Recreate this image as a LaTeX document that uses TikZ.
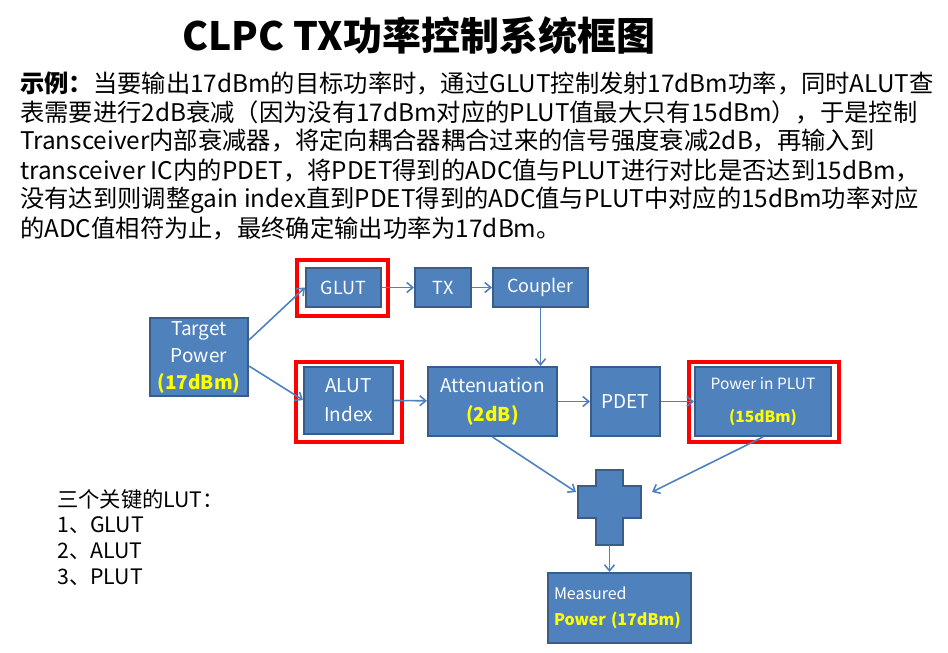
\documentclass[tikz,border=0pt]{standalone}
\usepackage{fontspec}
\setmainfont{Noto Sans CJK SC}
\usetikzlibrary{arrows.meta,positioning}
\definecolor{boxblue}{RGB}{79,129,189}
\definecolor{boxedge}{RGB}{56,93,138}
\definecolor{hiyellow}{RGB}{255,255,0}
\tikzset{
  blk/.style={draw=boxedge, line width=2pt, fill=boxblue, text=white, align=center, inner sep=0pt},
  frame/.style={draw=red, line width=3.5pt},
  conn/.style={draw=boxblue, line width=1.6pt, -{Straight Barb[length=6pt,width=10pt]}},
  para/.style={anchor=west, font=\fontsize{24.3}{26}\selectfont, inner sep=0pt}
}
\begin{document}
\begin{tikzpicture}[x=1pt, y=-1pt]
    \useasboundingbox (0,0) rectangle (948,653);
    % Title
    \node[font=\fontsize{39}{40}\selectfont\bfseries] (title) at (419,36) {CLPC TX功率控制系统框图};
    % Description
    \node[para] (p1) at (20,83) {\textbf{示例：}当要输出17dBm的目标功率时，通过GLUT控制发射17dBm功率，同时ALUT查};
    \node[para] (p2) at (20,112) {表需要进行2dB衰减（因为没有17dBm对应的PLUT值最大只有15dBm），于是控制};
    \node[para] (p3) at (20,141) {Transceiver内部衰减器，将定向耦合器耦合过来的信号强度衰减2dB，再输入到};
    \node[para] (p4) at (20,171) {transceiver IC内的PDET，将PDET得到的ADC值与PLUT进行对比是否达到15dBm，};
    \node[para] (p5) at (20,200) {没有达到则调整gain index直到PDET得到的ADC值与PLUT中对应的15dBm功率对应};
    \node[para] (p6) at (20,229) {的ADC值相符为止，最终确定输出功率为17dBm。};

    % Blocks
    \node[blk, minimum width=98pt, minimum height=78pt, font=\fontsize{19}{27}\selectfont] (target) at (199,357) {Target\\Power\\\textcolor{hiyellow}{\bfseries(17dBm)}};
    \node[blk, minimum width=75pt, minimum height=39pt, font=\fontsize{18}{18}\selectfont] (glut) at (343.5,287.5) {GLUT};
    \node[blk, minimum width=56pt, minimum height=39pt, font=\fontsize{18}{18}\selectfont] (tx) at (443,287.5) {TX};
    \node[blk, minimum width=95pt, minimum height=39pt, font=\fontsize{18}{18}\selectfont] (coupler) at (540.5,287.5) {Coupler};
    \node[blk, minimum width=89pt, minimum height=67pt, font=\fontsize{19}{29}\selectfont] (alut) at (348.5,400) {ALUT\\Index};
    \node[blk, minimum width=129pt, minimum height=69pt, font=\fontsize{19}{29}\selectfont] (atten) at (492.5,401.5) {Attenuation\\\textcolor{hiyellow}{\bfseries(2dB)}};
    \node[blk, minimum width=69pt, minimum height=69pt, font=\fontsize{19}{18}\selectfont] (pdet) at (625.5,401.5) {PDET};
    \node[blk, minimum width=136pt, minimum height=69pt, font=\fontsize{15.5}{33}\selectfont] (plut) at (763,401.5) {Power in PLUT\\\textcolor{hiyellow}{\bfseries(15dBm)}};
    \node[blk, minimum width=143pt, minimum height=70pt, align=left, text width=131pt, font=\fontsize{16}{26}\selectfont] (meas) at (619.5,608) {Measured\\\textcolor{hiyellow}{\bfseries Power (17dBm)}};

    % Red frames
    \draw[frame] (297,260) rectangle (388,316);
    \draw[frame] (296,362) rectangle (402,442);
    \draw[frame] (689,362) rectangle (839,442);

    % Plus sign
    \draw[draw=boxedge, line width=2pt, fill=boxblue] (596,470) -- (623,470) -- (623,486) -- (641,486) -- (641,518) -- (623,518) -- (623,545) -- (596,545) -- (596,518) -- (578,518) -- (578,486) -- (596,486) -- cycle;
    \coordinate (plusL) at (576,492);
    \coordinate (plusR) at (652,492);
    \coordinate (plusB) at (609.5,545);

    % Connectors
    \draw[conn] (target.east |- 0,340) -- (glut.west);
    \draw[conn] (target.east |- 0,366) -- (alut.west);
    \draw[conn] (glut) -- (tx);
    \draw[conn] (tx) -- (coupler);
    \draw[conn] (coupler.south) -- (coupler.south |- atten.north);
    \draw[conn] (alut) -- (atten);
    \draw[conn] (atten) -- (pdet);
    \draw[conn] (pdet) -- (plut);
    \draw[conn] (atten.south) -- (plusL);
    \draw[conn] (plut.south) -- (plusR);
    \draw[conn] (plusB) -- (plusB |- meas.north);

    % LUT list
    \node[para, font=\fontsize{21.3}{22}\selectfont] (l0) at (57,499) {三个关键的LUT：};
    \node[para, font=\fontsize{21.3}{22}\selectfont] (l1) at (57,525) {1、GLUT};
    \node[para, font=\fontsize{21.3}{22}\selectfont] (l2) at (57,551) {2、ALUT};
    \node[para, font=\fontsize{21.3}{22}\selectfont] (l3) at (57,577) {3、PLUT};
\end{tikzpicture}
\end{document}
